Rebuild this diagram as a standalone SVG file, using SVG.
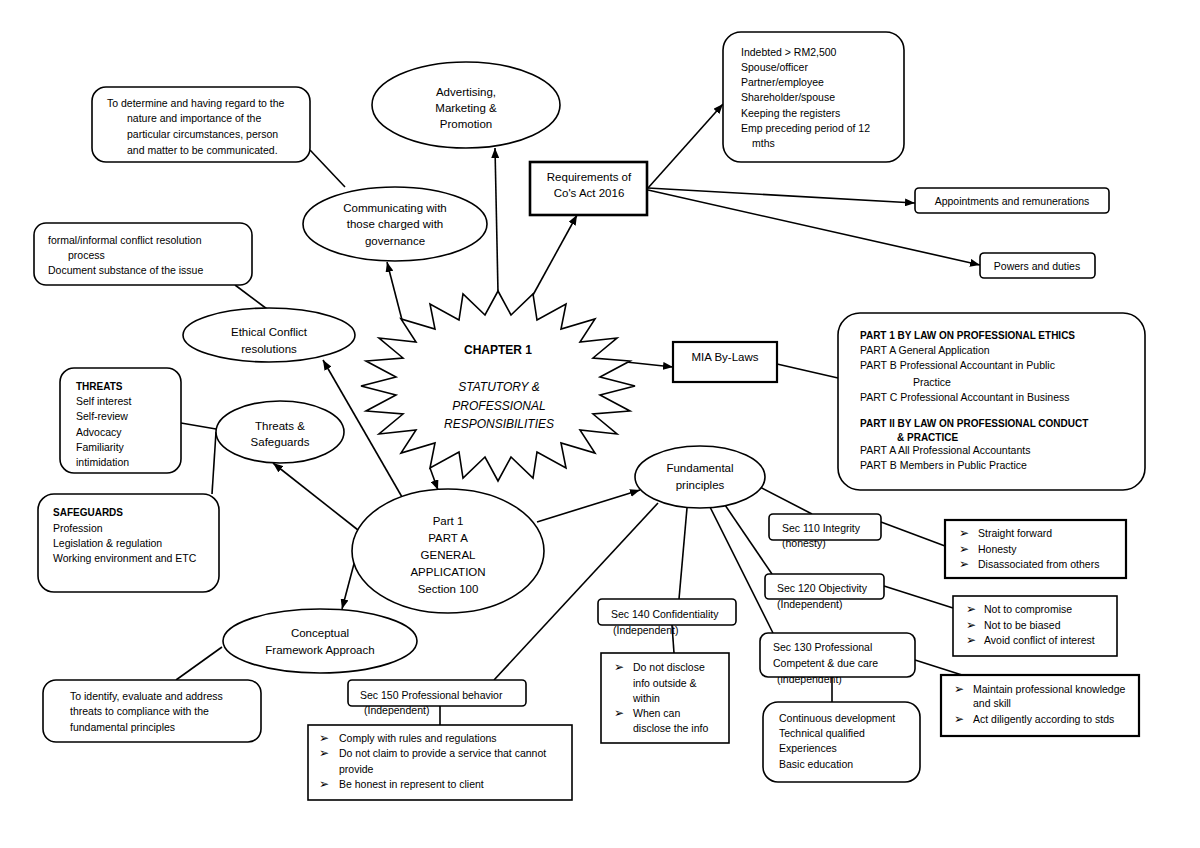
<svg xmlns="http://www.w3.org/2000/svg" width="1200" height="848" viewBox="0 0 1200 848">
<style>
.s{fill:#fff;stroke:#000;stroke-width:1.6}
.k{stroke-width:2.6}
.t{font-family:"Liberation Sans",Arial,sans-serif;font-size:10.5px;fill:#000}
.e{font-size:11.5px;text-anchor:middle}
.b{font-weight:bold;font-size:10px}
.m{text-anchor:middle}
.bu{font-family:"DejaVu Sans",sans-serif;font-size:12px;font-weight:bold}
.c line{stroke:#000;stroke-width:1.6;fill:none}
.a{marker-end:url(#ah)}
</style>
<defs>
<marker id="ah" viewBox="0 0 10 8" refX="10" refY="4" markerWidth="10" markerHeight="8" markerUnits="userSpaceOnUse" orient="auto"><path d="M0,0 L10,4 L0,8 z" fill="#000"/></marker>
</defs>
<rect width="1200" height="848" fill="#fff"/>

<g id="connectors" class="c">
<line x1="310" y1="150" x2="345" y2="187"/>
<line x1="235" y1="285" x2="267" y2="309"/>
<line x1="181" y1="423" x2="216" y2="429"/>
<line x1="216" y1="432" x2="212" y2="494"/>
<line x1="222" y1="647" x2="176" y2="680"/>
<line x1="777" y1="364" x2="838" y2="378"/>
<line x1="658" y1="503" x2="494" y2="680"/>
<line x1="687" y1="508" x2="679" y2="599"/>
<line x1="710" y1="507" x2="773" y2="633"/>
<line x1="725" y1="505" x2="772" y2="574"/>
<line x1="760" y1="487" x2="812" y2="514"/>
<line x1="881" y1="522" x2="945" y2="546"/>
<line x1="884" y1="586" x2="953" y2="608"/>
<line x1="915" y1="660" x2="962" y2="675"/>
<line x1="672" y1="625" x2="674" y2="653"/>
<line x1="832" y1="677" x2="832" y2="702"/>
<line x1="440" y1="706" x2="440" y2="725"/>
<line class="a" x1="402" y1="320" x2="387" y2="262"/>
<line class="a" x1="498" y1="292" x2="495" y2="148"/>
<line class="a" x1="533" y1="295" x2="577" y2="215"/>
<line class="a" x1="626" y1="362" x2="673" y2="367"/>
<line class="a" x1="430" y1="468" x2="438" y2="490"/>
<line class="a" x1="402" y1="497" x2="323" y2="360"/>
<line class="a" x1="358" y1="530" x2="273" y2="463"/>
<line class="a" x1="355" y1="560" x2="342" y2="609"/>
<line class="a" x1="537" y1="522" x2="640" y2="490"/>
<line class="a" x1="648" y1="188" x2="723" y2="104"/>
<line class="a" x1="648" y1="188" x2="915" y2="203"/>
<line class="a" x1="648" y1="190" x2="980" y2="265"/>
</g>

<g id="chapter1">
<polygon class="s" points="498,291 511,315 533,294 537,320 566,304 561,329 595,319 580,342 617,338 593,358 630,361 600,377 635,386 600,395 630,411 593,414 617,434 580,430 595,453 561,443 566,468 537,452 533,478 511,457 498,481 485,457 463,478 459,452 430,468 435,443 401,453 416,430 379,434 403,414 366,411 396,395 361,386 396,377 366,361 403,358 379,338 416,342 401,319 435,329 430,304 459,320 463,294 485,315"/>
<text class="t m" x="498" y="354" style="font-weight:bold;font-size:12px">CHAPTER 1</text>
<text class="t m" x="499" y="391" style="font-style:italic;font-size:12px">STATUTORY &amp;</text>
<text class="t m" x="499" y="410" style="font-style:italic;font-size:12px">PROFESSIONAL</text>
<text class="t m" x="499" y="428" style="font-style:italic;font-size:12px">RESPONSIBILITIES</text>
</g>

<g id="determine">
<rect class="s" x="92" y="87" width="218" height="75" rx="14"/>
<text class="t" x="107" y="107">To determine and having regard to the</text>
<text class="t" x="127" y="122">nature and importance of the</text>
<text class="t" x="127" y="138">particular circumstances, person</text>
<text class="t" x="127" y="154">and matter to be communicated.</text>
</g>

<g id="formal">
<rect class="s" x="34" y="223" width="218" height="62" rx="12"/>
<text class="t" x="48" y="244">formal/informal conflict resolution</text>
<text class="t" x="68" y="259">process</text>
<text class="t" x="48" y="274">Document substance of the issue</text>
</g>

<g id="ethical">
<ellipse class="s" cx="269" cy="335" rx="86" ry="27"/>
<text class="t e" x="269" y="336">Ethical Conflict</text>
<text class="t e" x="269" y="353">resolutions</text>
</g>

<g id="threats">
<rect class="s" x="60" y="368" width="121" height="105" rx="14"/>
<text class="t b" x="76" y="390">THREATS</text>
<text class="t" x="76" y="405">Self interest</text>
<text class="t" x="76" y="420">Self-review</text>
<text class="t" x="76" y="436">Advocacy</text>
<text class="t" x="76" y="451">Familiarity</text>
<text class="t" x="76" y="466">intimidation</text>
</g>

<g id="threats-safeguards">
<ellipse class="s" cx="280" cy="432" rx="64" ry="31"/>
<text class="t e" x="280" y="430">Threats &amp;</text>
<text class="t e" x="280" y="446">Safeguards</text>
</g>

<g id="safeguards">
<rect class="s" x="38" y="494" width="181" height="98" rx="16"/>
<text class="t b" x="53" y="516">SAFEGUARDS</text>
<text class="t" x="53" y="532">Profession</text>
<text class="t" x="53" y="547">Legislation &amp; regulation</text>
<text class="t" x="53" y="562">Working environment and ETC</text>
</g>

<g id="part1">
<ellipse class="s" cx="448" cy="551" rx="96" ry="62"/>
<text class="t e" x="448" y="525">Part 1</text>
<text class="t e" x="448" y="542">PART A</text>
<text class="t e" x="448" y="559">GENERAL</text>
<text class="t e" x="448" y="576">APPLICATION</text>
<text class="t e" x="448" y="593">Section 100</text>
</g>

<g id="conceptual">
<ellipse class="s" cx="320" cy="641" rx="97" ry="32"/>
<text class="t e" x="320" y="637">Conceptual</text>
<text class="t e" x="320" y="654">Framework Approach</text>
</g>

<g id="identify">
<rect class="s" x="43" y="680" width="218" height="62" rx="13"/>
<text class="t" x="70" y="700">To identify, evaluate and address</text>
<text class="t" x="70" y="715">threats to compliance with the</text>
<text class="t" x="70" y="731">fundamental principles</text>
</g>

<g id="sec150">
<text class="t" x="364" y="714">(Independent)</text>
<rect class="s" x="348" y="680" width="178" height="26" rx="4"/>
<text class="t" x="360" y="699">Sec 150 Professional behavior</text>
</g>

<g id="sec150-list">
<rect class="s" x="308" y="725" width="264" height="75"/>
<text class="bu" x="319" y="742">➢</text><text class="t" x="339" y="742">Comply with rules and regulations</text>
<text class="bu" x="319" y="757">➢</text><text class="t" x="339" y="757">Do not claim to provide a service that cannot</text>
<text class="t" x="339" y="773">provide</text>
<text class="bu" x="319" y="788">➢</text><text class="t" x="339" y="788">Be honest in represent to client</text>
</g>

<g id="communicating">
<ellipse class="s" cx="395" cy="224" rx="92" ry="37"/>
<text class="t e" x="395" y="212">Communicating with</text>
<text class="t e" x="395" y="228">those charged with</text>
<text class="t e" x="395" y="245">governance</text>
</g>

<g id="advertising">
<ellipse class="s" cx="466" cy="105" rx="94" ry="43"/>
<text class="t e" x="466" y="96">Advertising,</text>
<text class="t e" x="466" y="112">Marketing &amp;</text>
<text class="t e" x="466" y="128">Promotion</text>
</g>

<g id="requirements">
<rect class="s k" x="530" y="162" width="117" height="53"/>
<text class="t e" x="589" y="181">Requirements of</text>
<text class="t e" x="589" y="197">Co's Act 2016</text>
</g>

<g id="indebted">
<rect class="s" x="723" y="32" width="181" height="130" rx="18"/>
<text class="t" x="741" y="56">Indebted &gt; RM2,500</text>
<text class="t" x="741" y="71">Spouse/officer</text>
<text class="t" x="741" y="86">Partner/employee</text>
<text class="t" x="741" y="101">Shareholder/spouse</text>
<text class="t" x="741" y="117">Keeping the registers</text>
<text class="t" x="741" y="132">Emp preceding period of 12</text>
<text class="t" x="752" y="147">mths</text>
</g>

<g id="appointments">
<rect class="s" x="915" y="188" width="194" height="25" rx="4"/>
<text class="t m" x="1012" y="205">Appointments and remunerations</text>
</g>

<g id="powers">
<rect class="s" x="980" y="253" width="115" height="25" rx="4"/>
<text class="t m" x="1037" y="270">Powers and duties</text>
</g>

<g id="mia">
<rect class="s" x="673" y="342" width="104" height="40" style="stroke-width:2.2"/>
<text class="t e" x="725" y="361">MIA By-Laws</text>
</g>

<g id="bylaws">
<rect class="s" x="838" y="313" width="307" height="177" rx="22"/>
<text class="t b" x="860" y="339">PART 1 BY LAW ON PROFESSIONAL ETHICS</text>
<text class="t" x="860" y="354">PART A General Application</text>
<text class="t" x="860" y="369">PART B Professional Accountant in Public</text>
<text class="t" x="913" y="386">Practice</text>
<text class="t" x="860" y="401">PART C Professional Accountant in Business</text>
<text class="t b" x="860" y="427">PART II BY LAW ON PROFESSIONAL CONDUCT</text>
<text class="t b" x="897" y="441">&amp; PRACTICE</text>
<text class="t" x="860" y="454">PART A All Professional Accountants</text>
<text class="t" x="860" y="469">PART B Members in Public Practice</text>
</g>

<g id="fundamental">
<ellipse class="s" cx="700" cy="477" rx="65" ry="31"/>
<text class="t e" x="700" y="472">Fundamental</text>
<text class="t e" x="700" y="489">principles</text>
</g>

<g id="sec110">
<text class="t" x="782" y="547">(honesty)</text>
<rect class="s" x="769" y="514" width="112" height="26" rx="4"/>
<text class="t" x="782" y="532">Sec 110 Integrity</text>
</g>

<g id="sec120">
<text class="t" x="777" y="608">(Independent)</text>
<rect class="s" x="765" y="574" width="119" height="25" rx="4"/>
<text class="t" x="777" y="592">Sec 120 Objectivity</text>
</g>

<g id="sec140">
<text class="t" x="613" y="634">(Independent)</text>
<rect class="s" x="598" y="599" width="138" height="26" rx="4"/>
<text class="t" x="611" y="618">Sec 140 Confidentiality</text>
</g>

<g id="sec130">
<text class="t" x="777" y="683">(independent)</text>
<rect class="s" x="760" y="633" width="155" height="44" rx="8"/>
<text class="t" x="773" y="651">Sec 130 Professional</text>
<text class="t" x="773" y="667">Competent &amp; due care</text>
</g>

<g id="continuous">
<rect class="s" x="763" y="702" width="157" height="80" rx="15"/>
<text class="t" x="779" y="722">Continuous development</text>
<text class="t" x="779" y="737">Technical qualified</text>
<text class="t" x="779" y="752">Experiences</text>
<text class="t" x="779" y="768">Basic education</text>
</g>

<g id="sec140-list">
<rect class="s" x="601" y="653" width="128" height="90"/>
<text class="bu" x="614" y="671">➢</text><text class="t" x="633" y="671">Do not disclose</text>
<text class="t" x="633" y="687">info outside &amp;</text>
<text class="t" x="633" y="702">within</text>
<text class="bu" x="614" y="717">➢</text><text class="t" x="633" y="717">When can</text>
<text class="t" x="633" y="732">disclose the info</text>
</g>

<g id="sec110-list">
<rect class="s" x="945" y="520" width="181" height="58" style="stroke-width:2.2"/>
<text class="bu" x="959" y="537">➢</text><text class="t" x="978" y="537">Straight forward</text>
<text class="bu" x="959" y="553">➢</text><text class="t" x="978" y="553">Honesty</text>
<text class="bu" x="959" y="568">➢</text><text class="t" x="978" y="568">Disassociated from others</text>
</g>

<g id="sec120-list">
<rect class="s" x="953" y="596" width="164" height="60"/>
<text class="bu" x="966" y="613">➢</text><text class="t" x="984" y="613">Not to compromise</text>
<text class="bu" x="966" y="629">➢</text><text class="t" x="984" y="629">Not to be biased</text>
<text class="bu" x="966" y="644">➢</text><text class="t" x="984" y="644">Avoid conflict of interest</text>
</g>

<g id="sec130-list">
<rect class="s" x="941" y="675" width="198" height="61" style="stroke-width:2.2"/>
<text class="bu" x="954" y="693">➢</text><text class="t" x="973" y="693">Maintain professional knowledge</text>
<text class="t" x="973" y="707">and skill</text>
<text class="bu" x="954" y="723">➢</text><text class="t" x="973" y="723">Act diligently according to stds</text>
</g>
</svg>
